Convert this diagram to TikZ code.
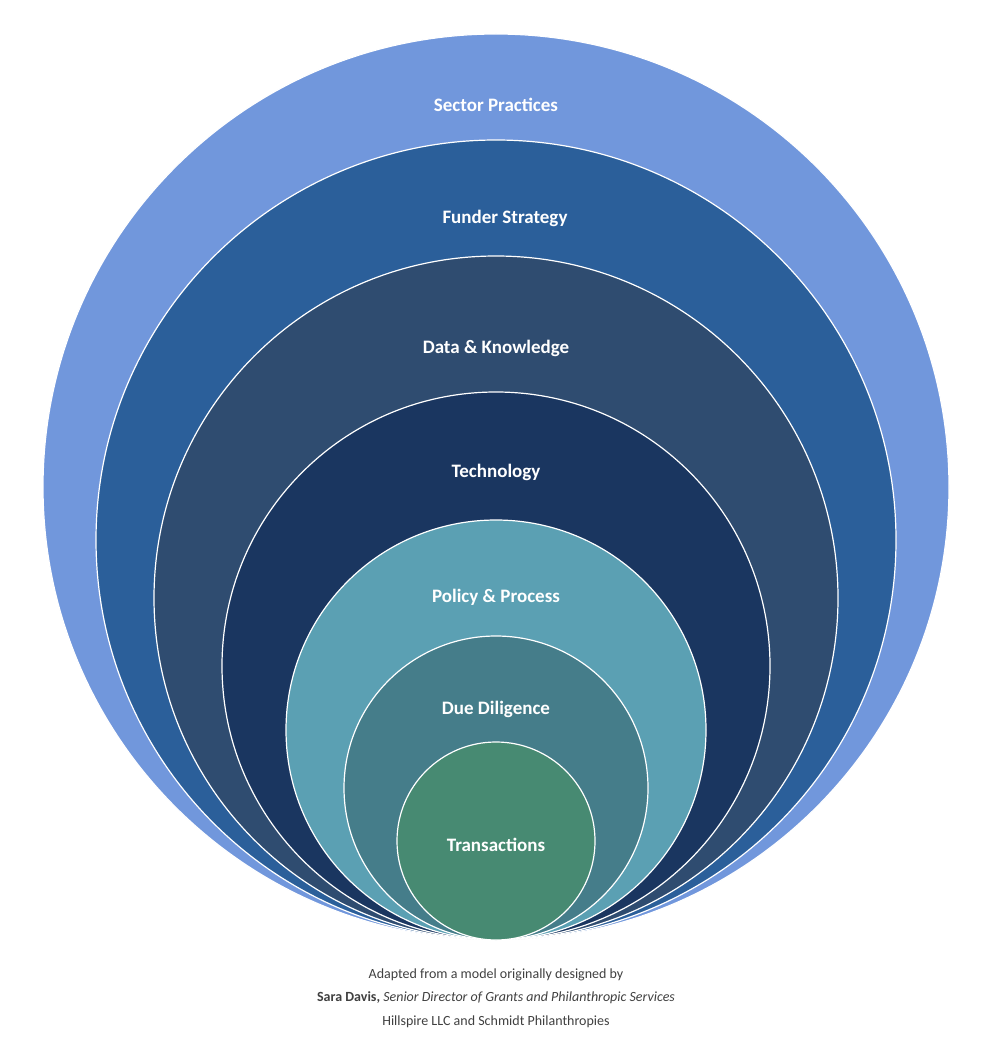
\documentclass[tikz,border=0pt]{standalone}
\usepackage{fontspec}
\setmainfont{Carlito}
\definecolor{sectorblue}{RGB}{113,151,220}
\definecolor{funderblue}{RGB}{43,95,154}
\definecolor{datablue}{RGB}{47,76,112}
\definecolor{techblue}{RGB}{26,54,96}
\definecolor{policyteal}{RGB}{91,160,179}
\definecolor{dueteal}{RGB}{69,125,138}
\definecolor{transgreen}{RGB}{71,138,114}
\definecolor{footgrey}{RGB}{64,64,64}
\tikzset{
  ring/.style={draw=white, line width=1.2pt},
  ringlabel/.style={text=white, font=\bfseries\fontsize{19}{22}\selectfont},
  footline/.style={text=footgrey, font=\fontsize{14}{16}\selectfont}
}
\begin{document}
\begin{tikzpicture}[x=1pt, y=-1pt]
        \useasboundingbox (0,0) rectangle (1000,1059);
        % Nested circles touching at the bottom
        \foreach \r/\c in {453/sectorblue, 400/funderblue, 342/datablue, 274/techblue,
                           210/policyteal, 152/dueteal, 99/transgreen} {
            \fill[\c] (496,{940-\r}) circle (\r);
            \draw[ring] (496,{940-\r}) circle (\r);
        }

        % Labels
        \node[ringlabel] (sector) at (496,105) {Sector Practices};
        \node[ringlabel] (funder) at (505,218) {Funder Strategy};
        \node[ringlabel] (data) at (496,348) {Data \& Knowledge};
        \node[ringlabel] (tech) at (496,472) {Technology};
        \node[ringlabel] (policy) at (496,597) {Policy \& Process};
        \node[ringlabel] (due) at (496,709) {Due Diligence};
        \node[ringlabel] (trans) at (496,845) {Transactions};

        % Credit
        \node[footline] (credit1) at (496,975) {Adapted from a model originally designed by};
        \node[footline] (credit2) at (496,998) {\textbf{Sara Davis,} \textit{Senior Director of Grants and Philanthropic Services}};
        \node[footline] (credit3) at (496,1022) {Hillspire LLC and Schmidt Philanthropies};
\end{tikzpicture}
\end{document}
